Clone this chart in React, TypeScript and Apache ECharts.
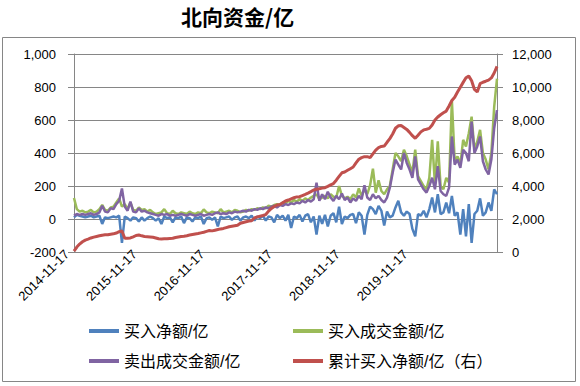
import React, { useEffect, useRef } from 'react';
import * as echarts from 'echarts';

// Tick labels of the horizontal axis (one every POINTS_PER_LABEL samples)
const xTickLabels = ['2014-11-17', '2015-11-17', '2016-11-17', '2017-11-17', '2018-11-17', '2019-11-17'];
const POINTS_PER_LABEL = 24;

const seriesNames = ['买入净额/亿', '买入成交金额/亿', '卖出成交金额/亿', '累计买入净额/亿（右）'];

// 买入净额/亿 (left axis)
const netBuy = [
  10, 25, 20, 15, 10, 15, 20, 10, 15, 20,
  -30, 10, 5, 10, 15, 10, 20, -145, 15, 5,
  -10, 10, 5, -15, 10, -10, 5, 15, 5, -10,
  5, -30, 15, 5, 10, -20, 10, 5, 15, -25,
  10, 5, -15, 10, 5, 15, -30, 5, 10, -5,
  10, -45, 15, 5, 10, 15, -5, 10, 15, -10,
  10, 15, 5, 20, -10, 15, 5, 20, -10, 15,
  10, -20, 25, 5, 20, -10, 25, -55, 15, 5,
  25, -15, 20, 30, -20, 15, -95, 20, -30, 25,
  -45, 20, 35, -20, 75, -30, 15, 5, 25, 30,
  -25, 40, 20, -95, 25, 75, 60, 30, 80, 50,
  -40, 45, 10, 20, 70, 110, 40, 20, 45, 30,
  -60, -105, 30, 20, 50, 10, 60, 130, 40, 150,
  30, 40, 100, 35, 140, 20, 40, -95, 60, -105,
  90, -145, 30, 50, 125, 20, 40, 100, 50, 180, 150,
];

// 买入成交金额/亿 (left axis)
const buyTurnover = [
  127, 60, 45, 50, 40, 45, 55, 40, 45, 60,
  85, 55, 50, 70, 75, 100, 125, 75, 90, 60,
  100, 55, 50, 70, 55, 60, 45, 55, 40, 30,
  35, 40, 60, 35, 30, 50, 35, 30, 40, 35,
  30, 45, 35, 30, 40, 35, 58, 40, 35, 45,
  40, 35, 60, 40, 45, 50, 40, 55, 50, 40,
  45, 55, 50, 60, 55, 65, 60, 70, 65, 80,
  75, 85, 90, 85, 100, 95, 110, 100, 115, 105,
  120, 110, 125, 115, 130, 140, 150, 120, 130, 140,
  125, 150, 135, 130, 200, 140, 125, 135, 120, 150,
  130, 185, 140, 180, 150, 205, 305, 160, 235, 170,
  150, 180, 200, 300, 400, 380, 350, 420, 380, 330,
  280, 420, 260, 230, 200, 180, 250, 480, 210, 470,
  200, 180, 250, 220, 720, 350, 380, 330, 480, 440,
  520, 620, 420, 470, 540, 400, 360, 300, 400, 680, 850,
];

// 卖出成交金额/亿 (left axis)
const sellTurnover = [
  20, 30, 25, 30, 25, 30, 35, 25, 30, 40,
  80, 45, 40, 65, 60, 90, 110, 185, 75, 50,
  105, 45, 40, 65, 45, 50, 40, 35, 30, 25,
  20, 30, 25, 30, 20, 25, 20, 25, 30, 25,
  20, 30, 25, 20, 25, 30, 20, 25, 30, 25,
  35, 40, 30, 35, 30, 40, 35, 45, 40, 45,
  50, 45, 55, 50, 60, 55, 65, 60, 70, 65,
  75, 80, 70, 85, 80, 90, 85, 95, 90, 100,
  95, 110, 100, 115, 105, 120, 220, 110, 150, 120,
  165, 130, 110, 140, 120, 155, 115, 130, 100, 125,
  110, 140, 120, 205, 130, 115, 150, 125, 140, 115,
  100, 130, 190, 280, 360, 330, 300, 400, 340, 300,
  250, 380, 240, 210, 180, 160, 200, 250, 180, 320,
  170, 150, 140, 190, 500, 330, 360, 310, 420, 400,
  350, 590, 400, 440, 500, 350, 300, 270, 360, 550, 660,
];

// 累计买入净额/亿 (right axis)
const cumulativeNet = [
  50, 300, 480, 620, 720, 780, 850, 900, 940, 980,
  1020, 1040, 1050, 1080, 1100, 1150, 1230, 1270, 830, 840,
  850, 920, 1000, 1030, 980, 940, 930, 910, 890, 850,
  800, 790, 800, 810, 820, 830, 880, 910, 940, 960,
  990, 1030, 1060, 1090, 1120, 1160, 1200, 1250, 1300, 1280,
  1320, 1360, 1400, 1430, 1480, 1530, 1560, 1590, 1620, 1740,
  1790, 1830, 1870, 1900, 2060, 2130, 2170, 2210, 2270, 2480,
  2640, 2760, 2850, 2880, 2980, 3090, 3150, 3220, 3290, 3340,
  3350, 3420, 3490, 3570, 3660, 3760, 3800, 3830, 3870, 3900,
  3980, 4070, 4150, 4350, 4580, 4800, 4850, 4950, 5050, 5150,
  5400, 5620, 5720, 5780, 5780, 5720, 5950, 6180, 6330, 6400,
  6420, 6650, 6870, 7150, 7500, 7650, 7670, 7550, 7430, 7250,
  7050, 6890, 7080, 7280, 7400, 7440, 7490, 7700, 8000, 8180,
  8320, 8440, 8540, 8850, 9180, 9380, 9700, 9990, 10280, 10560,
  10660, 10380, 9850, 9700, 10200, 10290, 10350, 10420, 10550, 10850, 11250,
];

const leftTicks = { min: -200, max: 1000, interval: 200 };
const rightTicks = { min: 0, max: 12000, interval: 2000 };

export default function App() {
  const ref = useRef<HTMLDivElement>(null);

  useEffect(() => {
    if (!ref.current) return;
    const chart = echarts.init(ref.current, null, { renderer: 'svg' });
    const gray = '#868686';
    const numFont = "'Liberation Sans', Arial, sans-serif";
    const cjkFont = "'Liberation Sans', 'Noto Sans CJK SC', sans-serif";
    const colors = ['#4F81BD', '#9BBB59', '#8064A2', '#C0504D'];
    const toPairs = (arr: number[]) => arr.map((v, i) => [i, v]);
    const allData = [netBuy, buyTurnover, sellTurnover, cumulativeNet];
    const legendPos = [
      { left: 89, top: 323 },
      { left: 293, top: 323 },
      { left: 89, top: 353 },
      { left: 293, top: 353 },
    ];

    chart.setOption({
      animation: false,
      backgroundColor: '#ffffff',
      title: {
        text: '北向资金/亿',
        left: 181,
        top: 5,
        padding: 0,
        textStyle: { fontFamily: "'Noto Sans CJK SC', sans-serif", fontSize: 21, fontWeight: 'bold', color: '#000' },
      },
      graphic: [
        {
          type: 'rect',
          silent: true,
          z: -10,
          shape: { x: 2.5, y: 37.5, width: 573, height: 344 },
          style: { fill: 'none', stroke: gray, lineWidth: 1 },
        },
      ],
      legend: seriesNames.map((name, i) => ({
        data: [name],
        left: legendPos[i].left,
        top: legendPos[i].top,
        padding: 0,
        icon: 'rect',
        itemWidth: 30,
        itemHeight: 4,
        selectedMode: false,
        textStyle: { fontFamily: cjkFont, fontSize: 16, color: '#000' },
      })),
      grid: { left: 74, right: 83, top: 54, bottom: 134 },
      xAxis: {
        type: 'value',
        min: 0,
        max: cumulativeNet.length - 1,
        interval: POINTS_PER_LABEL,
        axisLine: { show: true, onZero: false, lineStyle: { color: gray, width: 1 } },
        axisTick: { show: false },
        splitLine: { show: false },
        axisLabel: {
          rotate: 45,
          margin: -7,
          padding: [0, 10, 0, 0],
          fontFamily: numFont,
          fontSize: 13,
          color: '#000',
          showMaxLabel: false,
          formatter: (v: number) => {
            if (v % POINTS_PER_LABEL !== 0) return '';
            return xTickLabels[v / POINTS_PER_LABEL] ?? '';
          },
        },
      },
      yAxis: [
        {
          type: 'value',
          position: 'left',
          ...leftTicks,
          axisLine: { show: true, lineStyle: { color: gray } },
          axisTick: { show: true, inside: false, length: 6, lineStyle: { color: gray } },
          splitLine: { show: true, lineStyle: { color: gray, width: 1 } },
          axisLabel: {
            margin: 18,
            fontFamily: numFont,
            fontSize: 13,
            color: '#000',
            formatter: (v: number) => v.toLocaleString('en-US'),
          },
        },
        {
          type: 'value',
          position: 'right',
          ...rightTicks,
          axisLine: { show: true, lineStyle: { color: gray } },
          axisTick: { show: true, inside: false, length: 6, lineStyle: { color: gray } },
          splitLine: { show: false },
          axisLabel: {
            margin: 15,
            fontFamily: numFont,
            fontSize: 13,
            color: '#000',
            formatter: (v: number) => v.toLocaleString('en-US'),
          },
        },
      ],
      series: seriesNames.map((name, i) => ({
        name,
        type: 'line',
        yAxisIndex: i === 3 ? 1 : 0,
        data: toPairs(allData[i]),
        showSymbol: false,
        symbol: 'none',
        color: colors[i],
        lineStyle: { color: colors[i], width: i === 3 ? 3 : 2.5 },
        z: 2 + i,
      })),
    });

    return () => chart.dispose();
  }, []);

  return <div ref={ref} style={{ position: 'absolute', left: 0, top: 0, width: 580, height: 386 }} />;
}
